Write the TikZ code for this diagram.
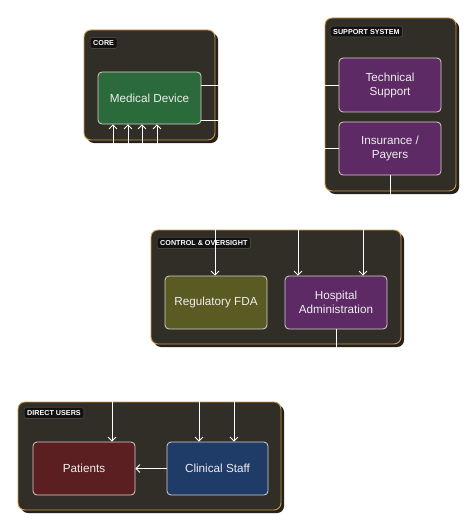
\documentclass[tikz,border=0pt]{standalone}
\usepackage{fontspec}
\setmainfont{Liberation Sans}
\usetikzlibrary{arrows.meta}
\definecolor{gold}{HTML}{C99A45}
\definecolor{grpfill}{HTML}{312D27}
\definecolor{shadowc}{HTML}{24211D}
\definecolor{boxborder}{HTML}{D6D3CB}
\definecolor{boxtext}{HTML}{EEEEEE}
\definecolor{tagfill}{HTML}{121212}
\definecolor{taggray}{HTML}{5A5750}
\definecolor{cgreen}{HTML}{2B6A3A}
\definecolor{cpurple}{HTML}{5D2A66}
\definecolor{colive}{HTML}{5A5B22}
\definecolor{cred}{HTML}{5B1F22}
\definecolor{cnavy}{HTML}{1F3B67}
\begin{document}
\begin{tikzpicture}[x=1pt,y=-1pt,
  grp/.style={draw=gold, line width=0.9pt, fill=grpfill, rounded corners=7pt, inner sep=0pt},
  grpshadow/.style={fill=shadowc, rounded corners=7pt},
  box/.style={draw=boxborder, line width=0.8pt, rounded corners=4pt, minimum width=102pt, minimum height=53pt, text=boxtext, font=\fontsize{11.7}{14}\selectfont, align=center, inner sep=0pt},
  tag/.style={fill=tagfill, draw=taggray, line width=0.4pt, rounded corners=1.5pt, text=white, font=\bfseries\fontsize{7.2}{8}\selectfont, inner xsep=3pt, inner ysep=2.8pt, anchor=north west},
  link/.style={draw=white, line width=0.8pt},
  arr/.style={link, -{Straight Barb[length=4pt,width=8pt]}}
]
\useasboundingbox (0,0) rectangle (474,532);
% groups
\fill[grpshadow] (87,33) rectangle (218,143);
\node[grp, minimum width=131pt, minimum height=110pt] (gcore) at (149.5,85) {};
\fill[grpshadow] (328,21) rectangle (459,194);
\node[grp, minimum width=131pt, minimum height=173pt] (gsupport) at (390.5,104.5) {};
\fill[grpshadow] (154,233) rectangle (404,347);
\node[grp, minimum width=250pt, minimum height=114pt] (gcontrol) at (276,287) {};
\fill[grpshadow] (21,405) rectangle (284,513);
\node[grp, minimum width=263pt, minimum height=108pt] (gusers) at (149.5,456) {};
% tags
\node[tag] (tcore) at (90,37.5) {CORE};
\node[tag] (tsupport) at (330,26) {SUPPORT SYSTEM};
\node[tag] (tcontrol) at (157,237.5) {CONTROL \& OVERSIGHT};
\node[tag] (tusers) at (24,407.5) {DIRECT USERS};
% nodes
\node[box, fill=cgreen, minimum width=103pt, minimum height=52pt] (md) at (149.5,98) {Medical Device};
\node[box, fill=cpurple, minimum height=54pt] (ts) at (390,85) {Technical\\Support};
\node[box, fill=cpurple] (ins) at (390,148.5) {Insurance /\\Payers};
\node[box, fill=colive] (fda) at (216,302.5) {Regulatory FDA};
\node[box, fill=cpurple] (ha) at (336,302.5) {Hospital\\Administration};
\node[box, fill=cred] (pat) at (84,468.5) {Patients};
\node[box, fill=cnavy, minimum width=101pt] (cs) at (217.5,468.5) {Clinical Staff};
% connectors
\draw[link] (md.east |- 0,85) -- (ts.west |- 0,85);
\draw[link] (md.east |- 0,120) -- (298,120) -- (298,148) -- (ins.west |- 0,148);
\draw[arr] (md.east |- 0,120) -- (298,120) -- (ha.north -| 298,0);
\draw[arr] (ins.west |- 0,148) -- (215,148) -- (fda.north -| 215,0);
\draw[arr] (ins.south) -- (390,212) -- (363,212) -- (ha.north -| 363,0);
\draw[arr] (ha.south) -- (336,375) -- (234,375) -- (cs.north -| 234,0);
\draw[arr] (ha.south) -- (336,375) -- (199,375) -- (cs.north -| 199,0);
\draw[arr] (ha.south) -- (336,375) -- (112,375) -- (pat.north -| 112,0);
\draw[arr] (cs.west) -- (pat.east);
\draw[arr] (ts.west) -- (310,85) -- (310,205) -- (157,205) -- (md.south -| 157,0);
\draw[arr] (ts.west) -- (310,85) -- (310,215) -- (113,215) -- (md.south -| 113,0);
\draw[arr] (ins.south) -- (390,200) -- (142,200) -- (md.south -| 142,0);
\draw[arr] (ha.south) -- (336,360) -- (430,360) -- (430,210) -- (128,210) -- (md.south -| 128,0);
\end{tikzpicture}
\end{document}
